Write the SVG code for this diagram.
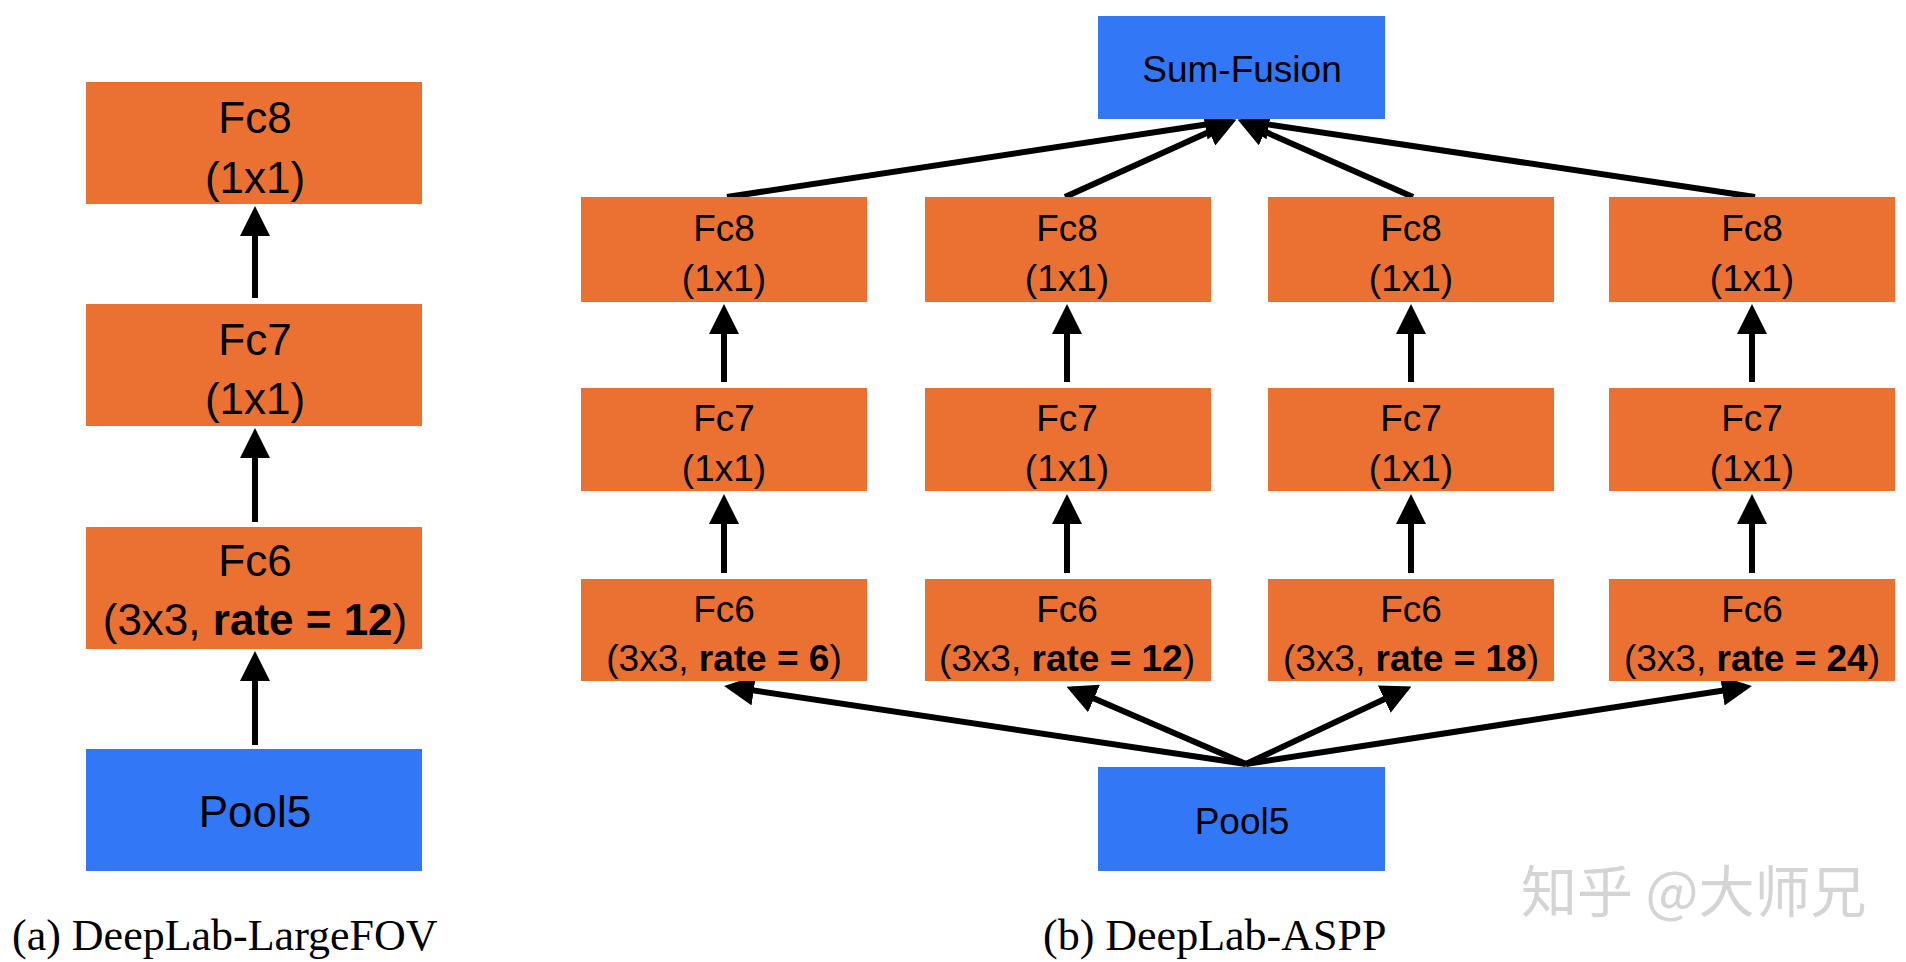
<svg xmlns="http://www.w3.org/2000/svg" width="1906" height="962" viewBox="0 0 1906 962">
<style>
.o{fill:#EB7132}.b{fill:#3177F6}
.t{font-family:"Liberation Sans",Arial,sans-serif;fill:#000;text-anchor:middle}
.L{font-size:44px}.S{font-size:37px}
.c{font-family:"Liberation Serif","Times New Roman",serif;font-size:44px;fill:#000}
.e{stroke:#000;stroke-width:6;fill:none;marker-end:url(#a)}
</style>
<defs><marker id="a" markerWidth="5" markerHeight="5" refX="4" refY="2.5" orient="auto"><path d="M0,0 L5,2.5 L0,5 Z" fill="#000"/></marker></defs>
<rect width="1906" height="962" fill="#fff"/>
<g id="connectors">
<line class="e" x1="255" y1="298" x2="255" y2="212"/>
<line class="e" x1="255" y1="522" x2="255" y2="434"/>
<line class="e" x1="255" y1="745" x2="255" y2="657"/>
<line class="e" x1="724" y1="382" x2="724" y2="310"/>
<line class="e" x1="1067" y1="382" x2="1067" y2="310"/>
<line class="e" x1="1411" y1="382" x2="1411" y2="310"/>
<line class="e" x1="1752" y1="382" x2="1752" y2="310"/>
<line class="e" x1="724" y1="573" x2="724" y2="500"/>
<line class="e" x1="1067" y1="573" x2="1067" y2="500"/>
<line class="e" x1="1411" y1="573" x2="1411" y2="500"/>
<line class="e" x1="1752" y1="573" x2="1752" y2="500"/>
<line class="e" x1="1246" y1="764" x2="730" y2="687"/>
<line class="e" x1="1246" y1="764" x2="1072" y2="689"/>
<line class="e" x1="1246" y1="764" x2="1406" y2="689"/>
<line class="e" x1="1246" y1="764" x2="1746" y2="687"/>
<line class="e" x1="727" y1="197" x2="1229" y2="121"/>
<line class="e" x1="1065" y1="197" x2="1231" y2="122"/>
<line class="e" x1="1413" y1="197" x2="1243" y2="122"/>
<line class="e" x1="1755" y1="197" x2="1245" y2="121"/>
</g>
<g id="l-fc8"><rect class="o" x="86" y="82" width="336" height="122"/><text class="t L" x="255" y="133">Fc8</text><text class="t L" x="255" y="193">(1x1)</text></g>
<g id="l-fc7"><rect class="o" x="86" y="304" width="336" height="122"/><text class="t L" x="255" y="355">Fc7</text><text class="t L" x="255" y="414">(1x1)</text></g>
<g id="l-fc6"><rect class="o" x="86" y="527" width="336" height="122"/><text class="t L" x="255" y="576">Fc6</text><text class="t L" x="255" y="635">(3x3, <tspan font-weight="bold">rate = 12</tspan>)</text></g>
<g id="l-pool5"><rect class="b" x="86" y="749" width="336" height="122"/><text class="t L" x="255" y="827">Pool5</text></g>
<g id="sum"><rect class="b" x="1098" y="16" width="287" height="103"/><text class="t S" x="1242" y="82">Sum-Fusion</text></g>
<g id="r-pool5"><rect class="b" x="1098" y="767" width="287" height="104"/><text class="t S" x="1242" y="834">Pool5</text></g>
<g id="c1"><rect class="o" x="581" y="197" width="286" height="105"/><text class="t S" x="724" y="241">Fc8</text><text class="t S" x="724" y="291">(1x1)</text>
<rect class="o" x="581" y="388" width="286" height="103"/><text class="t S" x="724" y="431">Fc7</text><text class="t S" x="724" y="481">(1x1)</text>
<rect class="o" x="581" y="579" width="286" height="102"/><text class="t S" x="724" y="622">Fc6</text><text class="t S" x="724" y="671">(3x3, <tspan font-weight="bold">rate = 6</tspan>)</text></g>
<g id="c2"><rect class="o" x="925" y="197" width="286" height="105"/><text class="t S" x="1067" y="241">Fc8</text><text class="t S" x="1067" y="291">(1x1)</text>
<rect class="o" x="925" y="388" width="286" height="103"/><text class="t S" x="1067" y="431">Fc7</text><text class="t S" x="1067" y="481">(1x1)</text>
<rect class="o" x="925" y="579" width="286" height="102"/><text class="t S" x="1067" y="622">Fc6</text><text class="t S" x="1067" y="671">(3x3, <tspan font-weight="bold">rate = 12</tspan>)</text></g>
<g id="c3"><rect class="o" x="1268" y="197" width="286" height="105"/><text class="t S" x="1411" y="241">Fc8</text><text class="t S" x="1411" y="291">(1x1)</text>
<rect class="o" x="1268" y="388" width="286" height="103"/><text class="t S" x="1411" y="431">Fc7</text><text class="t S" x="1411" y="481">(1x1)</text>
<rect class="o" x="1268" y="579" width="286" height="102"/><text class="t S" x="1411" y="622">Fc6</text><text class="t S" x="1411" y="671">(3x3, <tspan font-weight="bold">rate = 18</tspan>)</text></g>
<g id="c4"><rect class="o" x="1609" y="197" width="286" height="105"/><text class="t S" x="1752" y="241">Fc8</text><text class="t S" x="1752" y="291">(1x1)</text>
<rect class="o" x="1609" y="388" width="286" height="103"/><text class="t S" x="1752" y="431">Fc7</text><text class="t S" x="1752" y="481">(1x1)</text>
<rect class="o" x="1609" y="579" width="286" height="102"/><text class="t S" x="1752" y="622">Fc6</text><text class="t S" x="1752" y="671">(3x3, <tspan font-weight="bold">rate = 24</tspan>)</text></g>
<text class="c" x="12" y="950">(a) DeepLab-LargeFOV</text>
<text class="c" x="1043" y="950">(b) DeepLab-ASPP</text>
<text x="1521" y="912" font-family="'Noto Sans CJK SC',sans-serif" font-size="56" fill="#d4d4d4">知乎 @大师兄</text>
</svg>
